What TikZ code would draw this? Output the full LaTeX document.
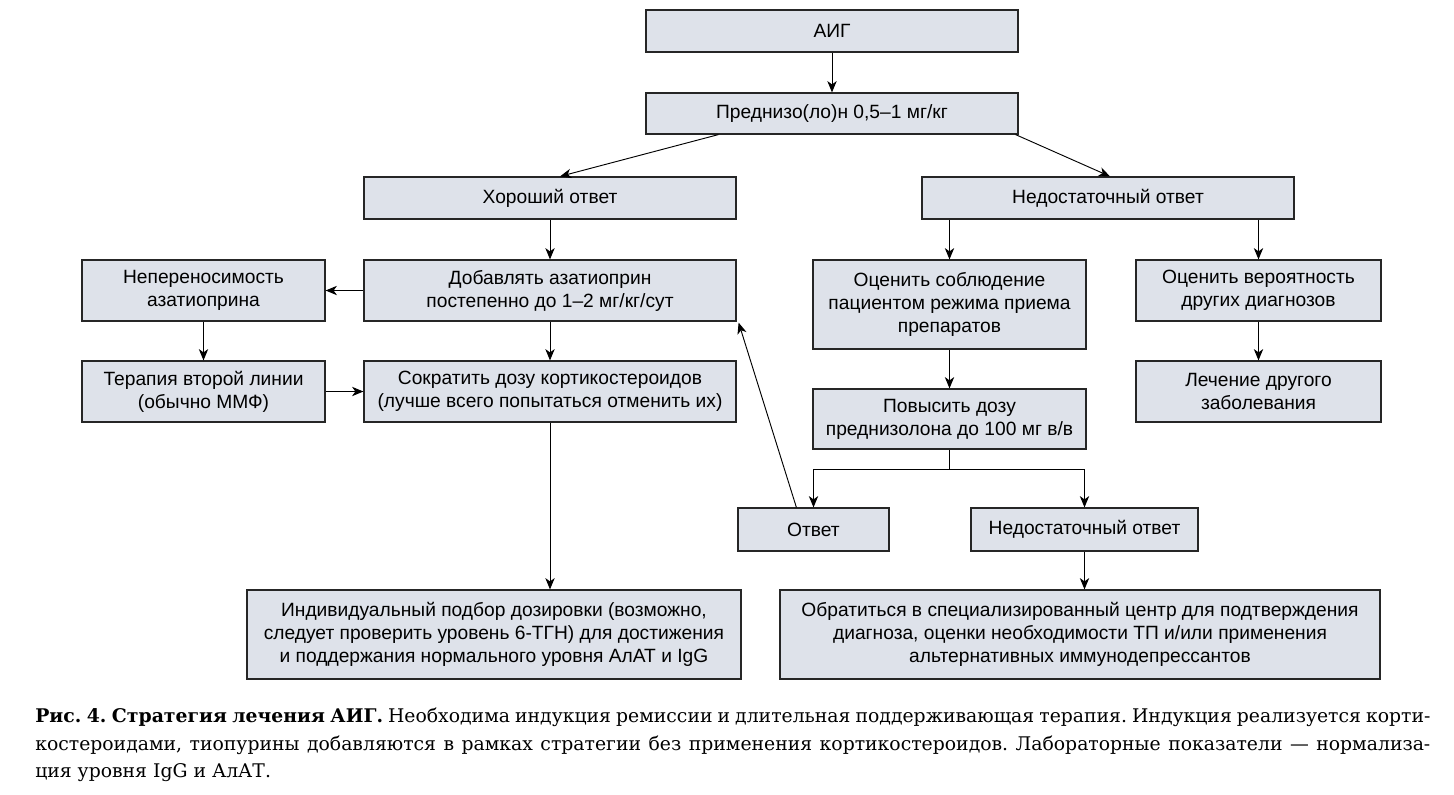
\documentclass[tikz,border=0pt]{standalone}
\usepackage{fontspec}
\setmainfont{Liberation Sans}
\newfontfamily\capfont[Ligatures=TeX]{DejaVu Serif}
\usetikzlibrary{arrows.meta,calc}
\definecolor{boxfill}{HTML}{DEE2EA}
\definecolor{boxline}{HTML}{262626}
\frenchspacing
\tikzset{
  bx/.style 2 args={draw=boxline, fill=boxfill, line width=0.9pt, inner sep=0pt,
    minimum width=#1*0.75pt, minimum height=#2*0.75pt, align=center,
    font=\fontsize{14.4pt}{17.25pt}\selectfont},
  arr/.style={-{Stealth[length=8.5pt,width=7pt,inset=2.5pt]}, line width=0.7pt, draw=black},
  ln/.style={line width=0.7pt, draw=black},
  captxt/.style={anchor=base west, inner sep=0pt, font=\capfont\fontsize{14.1pt}{20.6pt}\selectfont}
}
\begin{document}
\begin{tikzpicture}[x=0.75pt,y=-0.75pt]
\useasboundingbox (0,0) rectangle (1454,794);
\node[bx={372}{42}] (aig) at (832,31) {АИГ};
\node[bx={372}{41}] (pred) at (832,113.5) {Преднизо(ло)н 0,5–1 мг/кг};
\node[bx={372}{42}] (good) at (550,198) {Хороший ответ};
\node[bx={372}{42}] (bad) at (1108,198) {Недостаточный ответ};
\node[bx={243}{61}] (intol) at (203.5,290.5) {Непереносимость\\азатиоприна};
\node[bx={372}{61}] (add) at (550,290.5) {Добавлять азатиоприн\\постепенно до 1–2 мг/кг/сут};
\node[bx={273}{89}] (comp) at (949.5,304.5) {Оценить соблюдение\\пациентом режима приема\\препаратов};
\node[bx={245}{61}] (other) at (1258.5,290.5) {Оценить вероятность\\других диагнозов};
\node[bx={243}{61}] (second) at (203.5,391.5) {Терапия второй линии\\(обычно ММФ)};
\node[bx={372}{61}] (reduce) at (550,391.5) {Сократить дозу кортикостероидов\\(лучше всего попытаться отменить их)};
\node[bx={273}{60}] (raise) at (949.5,419) {Повысить дозу\\преднизолона до 100 мг в/в};
\node[bx={245}{61}] (treat) at (1258.5,391.5) {Лечение другого\\заболевания};
\node[bx={151}{43}] (resp) at (813.5,529.5) {Ответ};
\node[bx={227}{43}] (bad2) at (1084.5,529.5) {Недостаточный ответ};
\node[bx={494}{89}] (indiv) at (494,634.5) {Индивидуальный подбор дозировки (возможно,\\следует проверить уровень 6-ТГН) для достижения\\и поддержания нормального уровня АлАТ и IgG};
\node[bx={600}{89}] (refer) at (1080,634.5) {Обратиться в специализированный центр для подтверждения\\диагноза, оценки необходимости ТП и/или применения\\альтернативных иммунодепрессантов};
% connectors
\draw[arr] (aig.south) -- (pred.north);
\draw[arr] ($(pred.south west)+(73,0)$) -- ($(good.north)+(10,0)$);
\draw[arr] ($(pred.south east)+(-3,0)$) -- ($(bad.north)+(2,0)$);
\draw[arr] (good.south) -- (add.north);
\draw[arr] (add.west) -- (intol.east);
\draw[arr] (intol.south) -- (second.north);
\draw[arr] (second.east) -- (reduce.west);
\draw[arr] (add.south) -- (reduce.north);
\draw[arr] (reduce.south) -- (reduce.south |- indiv.north);
\draw[arr] (bad.south -| comp.north) -- (comp.north);
\draw[arr] (bad.south -| other.north) -- (other.north);
\draw[arr] (comp.south) -- (raise.north);
\draw[arr] (other.south) -- (treat.north);
\coordinate (sp) at (949.5,469);
\draw[ln] (raise.south) -- (sp);
\draw[arr] (sp) -| (resp.north);
\draw[arr] (sp) -| (bad2.north);
\draw[arr] ($(resp.north west)+(59,0)$) -- ($(add.south east)+(2,1)$);
\draw[arr] (bad2.south) -- (bad2.south |- refer.north);
% caption
\node[captxt] (c1) at (35,722) {\makebox[1046.25pt][s]{\textbf{Рис. 4. Стратегия лечения АИГ.} Необходима индукция ремиссии и длительная поддерживающая терапия. Индукция реализуется корти-}};
\node[captxt] (c2) at (35,750) {\makebox[1046.25pt][s]{костероидами, тиопурины добавляются в рамках стратегии без применения кортикостероидов. Лабораторные показатели — нормализа-}};
\node[captxt] (c3) at (35,777) {ция уровня IgG и АлАТ.};
\end{tikzpicture}
\end{document}
